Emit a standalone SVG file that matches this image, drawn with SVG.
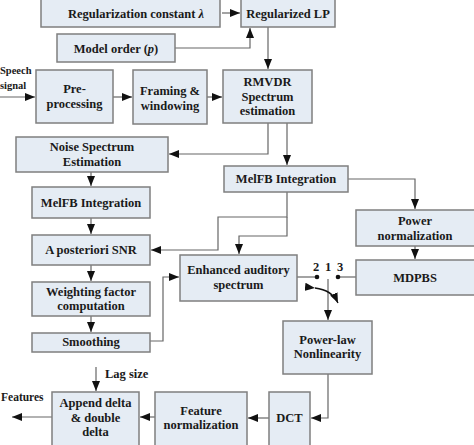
<svg xmlns="http://www.w3.org/2000/svg" width="474" height="445" viewBox="0 0 474 445">
<defs>
<style>
.b{fill:#e5ecf4;stroke:#7f7f7f;stroke-width:1.5}
.t{font-family:"Liberation Serif","Times New Roman",serif;font-weight:bold;font-size:12.5px;fill:#1a1a1a;text-anchor:middle}
.s{font-size:11.5px;text-anchor:start}
.sp{font-size:10.5px}
.l{fill:none;stroke:#666;stroke-width:1.2}
.i{font-style:italic}
</style>
<marker id="a" viewBox="0 0 10 10" refX="10" refY="5" markerWidth="10" markerHeight="10" markerUnits="userSpaceOnUse" orient="auto"><path d="M0,1 L10,5 L0,9 z" fill="#111"/></marker>
</defs>
<rect width="474" height="445" fill="#fff"/>
<g id="connectors">
<path class="l" d="M222,13 H240" marker-end="url(#a)"/>
<path class="l" d="M175,48 H250 V28" marker-end="url(#a)"/>
<path class="l" d="M268,27 V69" marker-end="url(#a)"/>
<path class="l" d="M0,97 H35" marker-end="url(#a)"/>
<path class="l" d="M113,97 H132" marker-end="url(#a)"/>
<path class="l" d="M207,97 H222" marker-end="url(#a)"/>
<path class="l" d="M268,123 V154 H169" marker-end="url(#a)"/>
<path class="l" d="M287,123 V165" marker-end="url(#a)"/>
<path class="l" d="M348,179 H415 V209" marker-end="url(#a)"/>
<path class="l" d="M415,246 V259" marker-end="url(#a)"/>
<path class="l" d="M287,192 V217 H218 V250 H151" marker-end="url(#a)"/>
<path class="l" d="M287,217 V236 H239 V254" marker-end="url(#a)"/>
<path class="l" d="M91,172 V186" marker-end="url(#a)"/>
<path class="l" d="M91,218 V234" marker-end="url(#a)"/>
<path class="l" d="M91,265 V281" marker-end="url(#a)"/>
<path class="l" d="M91,316 V332" marker-end="url(#a)"/>
<path class="l" d="M150,341 H163 V277 H179" marker-end="url(#a)"/>
<path class="l" d="M297,277 H317"/>
<path class="l" d="M356,277 H338"/>
<circle cx="317" cy="277" r="2.3" fill="#111"/>
<circle cx="338" cy="277" r="2.3" fill="#111"/>
<path class="l" d="M328,279 V320" marker-end="url(#a)"/>
<path d="M315,288 Q332,290 338,303" fill="none" stroke="#111" stroke-width="1.3" marker-end="url(#a)" style="marker-start:url(#a)"/>
<path class="l" d="M328,374 V418 H311" marker-end="url(#a)"/>
<path class="l" d="M269,418 H248" marker-end="url(#a)"/>
<path class="l" d="M155,417 H140" marker-end="url(#a)"/>
<path class="l" d="M52,417 H12" marker-end="url(#a)"/>
<path class="l" d="M96,367 V391" marker-end="url(#a)"/>
</g>
<g id="reg-const"><rect class="b" x="41" y="-2" width="179" height="29"/><text class="t" x="136" y="18">Regularization constant <tspan class="i">λ</tspan></text></g>
<g id="reg-lp"><rect class="b" x="241" y="-2" width="94" height="29"/><text class="t" x="288" y="18">Regularized LP</text></g>
<g id="model-order"><rect class="b" x="57" y="34" width="118" height="28"/><text class="t" x="116" y="53">Model order (<tspan class="i">p</tspan>)</text></g>
<g id="speech"><text class="t s sp" x="0" y="74">Speech</text><text class="t s sp" x="0" y="89">signal</text></g>
<g id="pre"><rect class="b" x="36" y="70" width="77" height="53"/><text class="t" x="74.5" y="93">Pre-</text><text class="t" x="74.5" y="108">processing</text></g>
<g id="framing"><rect class="b" x="133" y="70" width="74" height="54"/><text class="t" x="170" y="95">Framing &amp;</text><text class="t" x="170" y="110">windowing</text></g>
<g id="rmvdr"><rect class="b" x="223" y="70" width="89" height="53"/><text class="t" x="267.5" y="86">RMVDR</text><text class="t" x="267.5" y="101">Spectrum</text><text class="t" x="267.5" y="115">estimation</text></g>
<g id="noise"><rect class="b" x="16" y="137" width="152" height="35"/><text class="t" x="92" y="151">Noise Spectrum</text><text class="t" x="92" y="166">Estimation</text></g>
<g id="melfb-l"><rect class="b" x="32" y="187" width="118" height="31"/><text class="t" x="91" y="207">MelFB Integration</text></g>
<g id="apost"><rect class="b" x="32" y="235" width="118" height="30"/><text class="t" x="91" y="254">A posteriori SNR</text></g>
<g id="weight"><rect class="b" x="32" y="282" width="118" height="34"/><text class="t" x="91" y="296">Weighting factor</text><text class="t" x="91" y="310">computation</text></g>
<g id="smooth"><rect class="b" x="32" y="333" width="118" height="19"/><text class="t" x="91" y="346">Smoothing</text></g>
<g id="melfb-r"><rect class="b" x="224" y="166" width="124" height="26"/><text class="t" x="286" y="183">MelFB Integration</text></g>
<g id="pownorm"><rect class="b" x="356" y="210" width="120" height="36"/><text class="t" x="415" y="225">Power</text><text class="t" x="415" y="240">normalization</text></g>
<g id="mdpbs"><rect class="b" x="356" y="260" width="120" height="35"/><text class="t" x="415" y="282">MDPBS</text></g>
<g id="enh"><rect class="b" x="180" y="255" width="117" height="46"/><text class="t" x="238.5" y="274">Enhanced auditory</text><text class="t" x="238.5" y="289">spectrum</text></g>
<g id="switch"><text class="t" x="316" y="271">2</text><text class="t" x="328" y="271">1</text><text class="t" x="340" y="271">3</text></g>
<g id="powlaw"><rect class="b" x="283" y="321" width="89" height="53"/><text class="t" x="327.5" y="344">Power-law</text><text class="t" x="327.5" y="358">Nonlinearity</text></g>
<g id="dct"><rect class="b" x="269" y="392" width="41" height="55"/><text class="t" x="289.5" y="422">DCT</text></g>
<g id="featnorm"><rect class="b" x="155" y="392" width="92" height="55"/><text class="t" x="201" y="415">Feature</text><text class="t" x="201" y="429">normalization</text></g>
<g id="append"><rect class="b" x="52" y="392" width="87" height="55"/><text class="t" x="95.5" y="407">Append delta</text><text class="t" x="95.5" y="422">&amp; double</text><text class="t" x="95.5" y="436">delta</text></g>
<g id="labels"><text class="t" style="text-anchor:start" x="105" y="378">Lag size</text><text class="t s" x="1" y="401">Features</text></g>
</svg>
